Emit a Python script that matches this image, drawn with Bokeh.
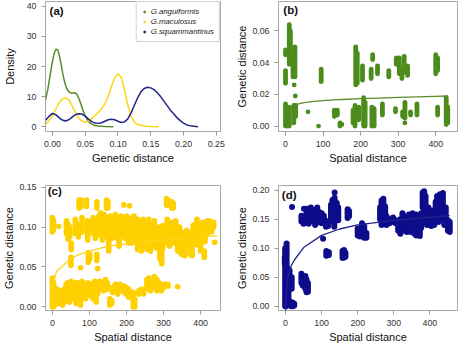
from bokeh.plotting import figure
from bokeh.models import Range1d, FixedTicker, PrintfTickFormatter, Label, Legend, LegendItem
from bokeh.layouts import row, column
from bokeh.embed import file_html
from bokeh.resources import INLINE

FONT = "Liberation Sans"
NAN = float("nan")

# ---------------- (a) density curves ----------------
species = ["G.anguiformis", "G.maculosus", "G.squammantinus"]

ang_x = [-0.0105, -0.007, -0.004, -0.001, 0.002, 0.004, 0.006, 0.008, 0.010, 0.013, 0.016, 0.019,
         0.022, 0.025, 0.028, 0.031, 0.034, 0.037, 0.040, 0.043, 0.046, 0.050, 0.054, 0.058,
         0.063, 0.070, 0.080, 0.093]
ang_y = [9.0, 12.5, 16.5, 20.5, 23.8, 25.2, 25.8, 25.5, 24.2, 21.0, 17.3, 14.5,
         12.6, 11.6, 11.2, 11.2, 11.3, 10.8, 9.5, 7.8, 5.8, 3.5, 2.0, 1.1,
         0.5, 0.2, 0.05, 0.0]

mac_x = [-0.0105, -0.005, 0.0, 0.005, 0.010, 0.015, 0.020, 0.025, 0.030, 0.035, 0.040, 0.045,
         0.050, 0.055, 0.060, 0.065, 0.070, 0.075, 0.080, 0.085, 0.090, 0.095, 0.100, 0.105,
         0.110, 0.115, 0.120, 0.125, 0.130, 0.140, 0.150, 0.162]
mac_y = [0.8, 2.0, 3.7, 5.8, 7.9, 9.2, 9.6, 8.9, 7.0, 4.8, 2.9, 1.8,
         1.5, 1.9, 2.7, 3.7, 4.8, 6.0, 7.6, 10.0, 13.3, 16.3, 17.6, 16.4,
         12.2, 7.2, 3.4, 1.5, 0.7, 0.2, 0.05, 0.0]

squ_x = [-0.0105, -0.005, 0.0, 0.005, 0.010, 0.015, 0.020, 0.025, 0.030, 0.035, 0.040, 0.045,
         0.050, 0.055, 0.060, 0.065, 0.070, 0.075, 0.080, 0.085, 0.090, 0.095, 0.100, 0.105,
         0.110, 0.115, 0.120, 0.125, 0.130, 0.135, 0.140, 0.145, 0.150, 0.155, 0.160, 0.165,
         0.170, 0.175, 0.180, 0.185, 0.190, 0.195, 0.200, 0.205, 0.210, 0.222]
squ_y = [2.1, 3.5, 4.4, 4.0, 3.0, 2.2, 1.9, 2.3, 3.2, 4.0, 4.3, 4.2,
         3.5, 2.5, 1.7, 1.2, 1.1, 1.3, 1.8, 2.3, 2.5, 2.3, 1.8, 1.4,
         1.6, 2.6, 4.6, 7.1, 9.6, 11.6, 12.7, 13.1, 12.9, 12.3, 11.3, 10.0,
         8.5, 7.0, 5.5, 4.3, 3.0, 2.0, 1.2, 0.6, 0.3, 0.0]

# ---------------- (b) G.anguiformis: stacks of points ----------------
b_x  = [0, 0, 0, 5, 10, 13, 10, 20, 25, 22, 27, 95, 130, 138, 145, 180, 187, 191, 185, 195,
        205, 208, 212, 228, 232, 230, 236, 245, 258, 275, 293, 295, 303, 310, 316, 312, 318,
        325, 333, 350, 400, 405, 405, 428, 432]
b_lo = [0.027, 0.045, 0.000, 0.000, 0.039, 0.046, 0.000, 0.031, 0.031, 0.002, 0.006, 0.028,
        0.006, 0.007, 0.000, 0.002, 0.026, 0.027, 0.000, 0.004, 0.029, 0.000, 0.000, 0.030,
        0.042, 0.000, 0.000, 0.033, 0.007, 0.031, 0.009, 0.039, 0.033, 0.030, 0.034, 0.006,
        0.005, 0.032, 0.007, 0.007, 0.033, 0.035, 0.007, 0.001, 0.002]
b_hi = [0.035, 0.048, 0.014, 0.010, 0.064, 0.060, 0.012, 0.045, 0.050, 0.013, 0.013, 0.036,
        0.010, 0.010, 0.002, 0.010, 0.050, 0.046, 0.013, 0.012, 0.038, 0.018, 0.015, 0.036,
        0.045, 0.012, 0.011, 0.038, 0.014, 0.035, 0.011, 0.043, 0.043, 0.036, 0.044, 0.009,
        0.015, 0.038, 0.009, 0.014, 0.045, 0.043, 0.012, 0.018, 0.012]
b_single_x = [23, 26, 60, 88, 150, 318]
b_single_y = [0.026, 0.019, 0.009, 0.000, 0.001, 0.002]
b_fit_x = [22, 35, 50, 75, 100, 150, 200, 250, 300, 350, 400, 432]
b_fit_y = [0.0130, 0.0140, 0.0148, 0.0156, 0.0161, 0.0168, 0.0173, 0.0177, 0.0181, 0.0185, 0.0188, 0.0190]

# ---------------- (c) G.maculosus ----------------
c_x = [0, 3, 38, 42, 47, 51, 50, 62, 70, 72, 77, 80, 92, 95, 97, 101, 104, 110, 116, 120, 120,
       125, 130, 135, 140, 146, 150, 148, 152, 156, 160, 165, 170, 175, 180, 185, 190, 196, 200,
       205, 210, 215, 220, 225, 230, 235, 240, 245, 250, 255, 260, 265, 270, 275, 280, 285, 290,
       295, 298, 303, 308, 312, 310, 316, 322, 326, 322, 328, 333, 338, 343, 348, 352, 357, 362,
       367, 372, 377, 380, 385, 390, 395, 400, 405, 410, 412, 418, 424, 430, 435,
       0, 3, 6, 10, 14, 18, 22, 27, 32, 37, 42, 46, 50, 55, 60, 64, 68, 72, 76, 80, 85, 90, 95,
       100, 105, 110, 114, 118, 122, 128, 133, 138, 143, 148, 155, 160, 162, 170, 176, 182, 188,
       194, 200, 206, 212, 218, 222, 233, 240, 246, 255, 260, 265, 270, 275, 282, 288, 294, 300,
       306, 312]
c_lo = [0.094, 0.097, 0.092, 0.085, 0.088, 0.072, 0.052, 0.092, 0.088, 0.124, 0.126, 0.094,
        0.126, 0.084, 0.056, 0.060, 0.096, 0.092, 0.086, 0.124, 0.058, 0.094, 0.090, 0.084,
        0.094, 0.124, 0.124, 0.088, 0.070, 0.092, 0.086, 0.090, 0.092, 0.086, 0.076, 0.090,
        0.094, 0.086, 0.090, 0.080, 0.086, 0.080, 0.092, 0.082, 0.072, 0.086, 0.070, 0.080,
        0.084, 0.072, 0.090, 0.070, 0.078, 0.088, 0.074, 0.080, 0.060, 0.054, 0.074, 0.080,
        0.128, 0.128, 0.084, 0.076, 0.124, 0.124, 0.086, 0.080, 0.088, 0.070, 0.082, 0.066,
        0.076, 0.064, 0.080, 0.074, 0.066, 0.064, 0.080, 0.088, 0.078, 0.090, 0.070, 0.086,
        0.062, 0.082, 0.092, 0.098, 0.094, 0.100,
        0.000, 0.000, 0.002, 0.004, 0.006, 0.004, 0.008, 0.002, 0.006, 0.012, 0.014, 0.006,
        0.016, 0.010, 0.014, 0.004, 0.016, 0.006, 0.002, 0.014, 0.018, 0.010, 0.016, 0.014,
        0.018, 0.010, 0.022, 0.006, 0.016, 0.024, 0.022, 0.020, 0.024, 0.022, 0.002, 0.004,
        0.018, 0.024, 0.016, 0.020, 0.022, 0.018, 0.016, 0.012, 0.014, 0.000, 0.000, 0.016,
        0.018, 0.016, 0.026, 0.022, 0.020, 0.024, 0.026, 0.020, 0.022, 0.020, 0.024, 0.026,
        0.026]
c_hi = [0.112, 0.108, 0.108, 0.104, 0.100, 0.080, 0.062, 0.110, 0.104, 0.134, 0.134, 0.112,
        0.134, 0.108, 0.068, 0.066, 0.106, 0.112, 0.104, 0.132, 0.066, 0.114, 0.118, 0.110,
        0.116, 0.134, 0.132, 0.112, 0.100, 0.114, 0.108, 0.112, 0.116, 0.106, 0.112, 0.114,
        0.110, 0.104, 0.114, 0.112, 0.110, 0.104, 0.114, 0.104, 0.110, 0.108, 0.100, 0.110,
        0.104, 0.100, 0.110, 0.102, 0.096, 0.108, 0.094, 0.100, 0.098, 0.072, 0.102, 0.094,
        0.136, 0.134, 0.110, 0.100, 0.132, 0.130, 0.106, 0.096, 0.108, 0.098, 0.100, 0.094,
        0.092, 0.086, 0.096, 0.094, 0.084, 0.078, 0.102, 0.104, 0.110, 0.104, 0.098, 0.106,
        0.070, 0.100, 0.108, 0.108, 0.104, 0.106,
        0.036, 0.030, 0.024, 0.020, 0.022, 0.018, 0.020, 0.014, 0.022, 0.028, 0.030, 0.024,
        0.032, 0.020, 0.030, 0.012, 0.030, 0.024, 0.014, 0.032, 0.028, 0.022, 0.030, 0.026,
        0.028, 0.024, 0.032, 0.020, 0.022, 0.032, 0.028, 0.030, 0.034, 0.030, 0.010, 0.008,
        0.024, 0.028, 0.026, 0.028, 0.026, 0.026, 0.024, 0.022, 0.018, 0.018, 0.010, 0.020,
        0.022, 0.022, 0.034, 0.036, 0.032, 0.030, 0.038, 0.034, 0.030, 0.026, 0.028, 0.028,
        0.028]
c_single_x = [17, 76, 122, 193, 208, 338, 438]
c_single_y = [0.101, 0.049, 0.048, 0.128, 0.127, 0.025, 0.081]
c_fit_x = [1, 3, 6, 12, 25, 50, 75, 100, 150, 200, 250, 300, 350, 400, 445]
c_fit_y = [0.012, 0.026, 0.036, 0.045, 0.050, 0.061, 0.066, 0.070, 0.076, 0.079, 0.082, 0.084, 0.086, 0.088, 0.089]

# ---------------- (d) G.squammantinus ----------------
d_x = [-1, 1, 3, 5, -2, 8, 11, 15, 17, 20, 24,
       44, 48, 55, 58, 62,
       44, 50, 58, 64, 70, 76, 82, 88, 94, 100, 106, 112, 118, 113, 120,
       126, 130, 136, 142, 146, 135,
       158, 162, 166, 172, 176,
       200, 206, 212, 218, 224,
       262, 266, 271, 276, 280, 288, 298, 305,
       312, 318, 324, 330, 336, 342, 347, 352, 357, 362, 367, 372, 376,
       380, 384, 388, 392, 396, 400, 404, 408, 412,
       416, 420, 424, 428, 432, 436, 440, 444, 450, 455]
d_lo = [0.000, 0.000, 0.020, 0.003, 0.073, 0.010, 0.030, 0.000, 0.030, 0.000, 0.001,
        0.040, 0.035, 0.030, 0.024, 0.025,
        0.146, 0.142, 0.145, 0.142, 0.146, 0.148, 0.140, 0.144, 0.150, 0.143, 0.146, 0.137, 0.138, 0.087, 0.088,
        0.148, 0.155, 0.150, 0.155, 0.148, 0.137,
        0.083, 0.084, 0.085, 0.152, 0.155,
        0.122, 0.120, 0.124, 0.118, 0.118,
        0.150, 0.140, 0.145, 0.148, 0.140, 0.143, 0.145, 0.143,
        0.130, 0.125, 0.135, 0.130, 0.128, 0.135, 0.128, 0.140, 0.125, 0.122, 0.128, 0.121, 0.135,
        0.170, 0.165, 0.175, 0.140, 0.150, 0.140, 0.138, 0.145, 0.140,
        0.150, 0.160, 0.145, 0.155, 0.150, 0.162, 0.140, 0.145, 0.130, 0.128]
d_hi = [0.100, 0.080, 0.108, 0.065, 0.084, 0.060, 0.062, 0.007, 0.050, 0.006, 0.004,
        0.056, 0.050, 0.052, 0.046, 0.040,
        0.156, 0.152, 0.168, 0.160, 0.170, 0.164, 0.166, 0.170, 0.162, 0.160, 0.156, 0.147, 0.146, 0.095, 0.093,
        0.175, 0.183, 0.187, 0.178, 0.170, 0.143,
        0.095, 0.097, 0.092, 0.167, 0.164,
        0.134, 0.130, 0.143, 0.138, 0.126,
        0.170, 0.182, 0.185, 0.172, 0.155, 0.150, 0.153, 0.148,
        0.140, 0.150, 0.160, 0.155, 0.148, 0.158, 0.152, 0.160, 0.150, 0.158, 0.148, 0.145, 0.160,
        0.196, 0.198, 0.190, 0.162, 0.170, 0.160, 0.150, 0.165, 0.158,
        0.180, 0.190, 0.175, 0.193, 0.185, 0.195, 0.165, 0.170, 0.148, 0.145]
d_single_x = [18, 51, 104, 136]
d_single_y = [0.171, 0.168, 0.116, 0.196]
d_fit_x = [0.6, 1, 2, 4, 8, 15, 25, 50, 100, 150, 200, 300, 400, 455]
d_fit_y = [-0.008, 0.002, 0.020, 0.038, 0.055, 0.069, 0.080, 0.101, 0.122, 0.133, 0.140, 0.148, 0.153, 0.156]

# ticks
a_xticks = [0.0, 0.05, 0.10, 0.15, 0.20, 0.25]
a_yticks = [0, 10, 20, 30, 40]
b_yticks = [0.0, 0.02, 0.04, 0.06]
c_yticks = [0.0, 0.05, 0.10, 0.15]
d_yticks = [0.0, 0.05, 0.10, 0.15, 0.20]
sp_xticks = [0, 100, 200, 300, 400]

# colours
GREEN_L, YELLOW_L, NAVY_L = "#5a8c2a", "#ffd516", "#23238c"
GREEN_P, YELLOW_P, NAVY_P = "#4b8c1c", "#ffd000", "#0d0d8c"


def make_fig(w, h, xr, yr, bl, br, bt, bb, xticks, yticks, xfmt, yfmt, xlabel, ylabel, ystand):
    p = figure(width=w, height=h, x_range=Range1d(*xr), y_range=Range1d(*yr),
               output_backend="svg", toolbar_location=None,
               min_border_left=bl, min_border_right=br, min_border_top=bt, min_border_bottom=bb)
    p.grid.visible = False
    p.outline_line_color = "#a8a8a8"
    p.outline_line_width = 1
    p.background_fill_color = "white"
    p.border_fill_color = "white"
    p.xaxis.ticker = FixedTicker(ticks=xticks)
    p.yaxis.ticker = FixedTicker(ticks=yticks)
    p.xaxis.formatter = PrintfTickFormatter(format=xfmt)
    p.yaxis.formatter = PrintfTickFormatter(format=yfmt)
    p.xaxis.axis_label = xlabel
    p.yaxis.axis_label = ylabel
    for ax in (p.xaxis[0], p.yaxis[0]):
        ax.axis_line_color = None
        ax.major_tick_line_color = "#9a9a9a"
        ax.major_tick_out = 4
        ax.major_tick_in = 0
        ax.minor_tick_line_color = None
        ax.major_label_text_font = FONT
        ax.major_label_text_font_size = "8.8px"
        ax.major_label_text_color = "#333333"
        ax.major_label_standoff = 5
        ax.axis_label_text_font = FONT
        ax.axis_label_text_font_size = "11px"
        ax.axis_label_text_font_style = "normal"
        ax.axis_label_text_color = "#111111"
    p.xaxis[0].axis_label_standoff = 2
    p.yaxis[0].axis_label_standoff = ystand
    return p


def panel_label(p, xr, yr, fw, fh, dx, dy, txt):
    x = xr[0] + dx / fw * (xr[1] - xr[0])
    y = yr[1] - dy / fh * (yr[1] - yr[0])
    p.add_layout(Label(x=x, y=y, text=txt, text_font=FONT, text_font_size="11.5px",
                       text_font_style="bold", text_baseline="middle", text_align="left",
                       text_color="#111111"))


# ---- panel a
a_xr, a_yr = (-0.0106, 0.2564), (-1.6, 41.6)
pa = make_fig(229, 175, a_xr, a_yr, 41, 9, 1, 44, a_xticks, a_yticks, "%.2f", "%d",
              "Genetic distance", "Density", 8)
pa.line(ang_x, ang_y, line_color=GREEN_L, line_width=1.5)
pa.line(mac_x, mac_y, line_color=YELLOW_L, line_width=1.5)
pa.line(squ_x, squ_y, line_color=NAVY_L, line_width=1.5)
items = []
for name, col in zip(species, [GREEN_L, YELLOW_L, NAVY_L]):
    # legend-only key marker (no data point is drawn)
    r = pa.scatter(x=[NAN], y=[NAN], marker="circle", size=4, fill_color=col, line_color=col)
    items.append(LegendItem(label=name, renderers=[r]))
leg = Legend(items=items, location="top_right", margin=0, padding=5, spacing=1,
             label_height=9, glyph_height=9, glyph_width=5, label_standoff=4,
             border_line_color="#a8a8a8", border_line_width=1, background_fill_alpha=1,
             label_text_font=FONT, label_text_font_size="7.8px", label_text_font_style="italic",
             label_text_color="#222222")
pa.add_layout(leg)
panel_label(pa, a_xr, a_yr, 179, 130, 4.2, 9.1, "(a)")

# ---- panel b
b_xr, b_yr = (-18.7, 458.0), (-0.0034, 0.0786)
pb = make_fig(229, 175, b_xr, b_yr, 49, 1, 1, 44, sp_xticks, b_yticks, "%d", "%.2f",
              "Spatial distance", "Genetic distance", 1)
pb.segment(x0=b_x, y0=b_lo, x1=b_x, y1=b_hi, line_color=GREEN_P, line_width=4.8, line_cap="round")
pb.scatter(b_single_x, b_single_y, size=4.8, fill_color=GREEN_P, line_color=None)
pb.line(b_fit_x, b_fit_y, line_color=GREEN_L, line_width=1.3)
panel_label(pb, b_xr, b_yr, 179, 130, 4.8, 8.6, "(b)")

# ---- panel c
c_xr, c_yr = (-18.6, 453.6), (-0.0048, 0.1524)
pc = make_fig(229, 170, c_xr, c_yr, 41, 9, 10, 35, sp_xticks, c_yticks, "%d", "%.2f",
              "Spatial distance", "Genetic distance", 1)
pc.segment(x0=c_x, y0=c_lo, x1=c_x, y1=c_hi, line_color=YELLOW_P, line_width=5.6, line_cap="round")
pc.scatter(c_single_x, c_single_y, size=5.6, fill_color=YELLOW_P, line_color=None)
pc.line(c_fit_x, c_fit_y, line_color=YELLOW_L, line_width=1.3)
panel_label(pc, c_xr, c_yr, 179, 125, 2.2, 5.8, "(c)")

# ---- panel d
d_xr, d_yr = (-19.5, 476.5), (-0.0075, 0.208)
pd = make_fig(229, 170, d_xr, d_yr, 49, 1, 6, 35, sp_xticks, d_yticks, "%d", "%.2f",
              "Spatial distance", "Genetic distance", 1)
pd.segment(x0=d_x, y0=d_lo, x1=d_x, y1=d_hi, line_color=NAVY_P, line_width=6.0, line_cap="round")
pd.scatter(d_single_x, d_single_y, size=6.0, fill_color=NAVY_P, line_color=None)
pd.line(d_fit_x, d_fit_y, line_color=NAVY_L, line_width=1.3)
panel_label(pd, d_xr, d_yr, 179, 129, 3.3, 9.3, "(d)")

layout = column(row(pa, pb), row(pc, pd))
open("out.html", "w").write(file_html(layout, INLINE))
